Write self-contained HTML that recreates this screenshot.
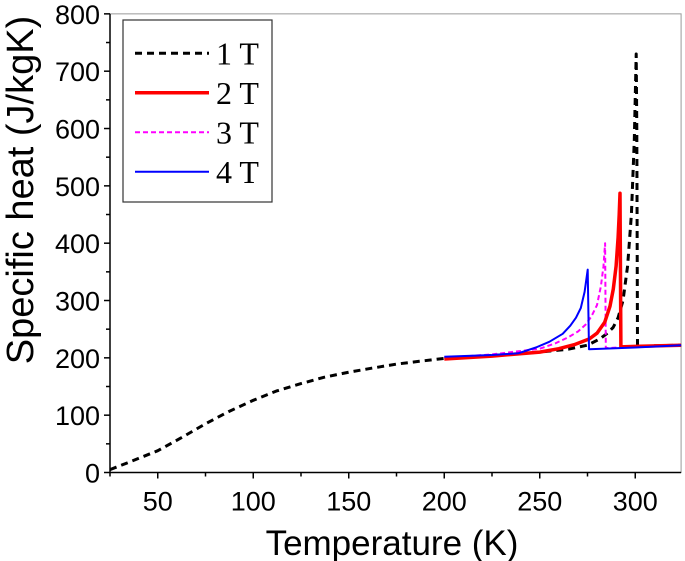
<!DOCTYPE html>
<html><head><meta charset="utf-8"><style>
html,body{margin:0;padding:0;background:#fff;}
svg{display:block;}
text{font-family:"Liberation Sans",sans-serif;}
</style></head><body>
<svg id="chart" width="685" height="561"></svg>
<script>
const xTicks=[50,100,150,200,250,300];
const yTicks=[0,100,200,300,400,500,600,700,800];
const seriesNames=["1 T","2 T","3 T","4 T"];
const t1=[25,35,50,62,75,87,100,112,125,137,150,162,175,187,200,225,250,265,275,281.5,285,288.4,291,293.6,296,298,299.5,300.5,300.8,301.2,310,324];
const c1=[5,18,38,60,85,106,126,142,155,166,175,182,189,194,199,204,210,215,222,233,242,253,270,300,360,450,580,730,600,220,221,222];
const t2=[200,225,250,260,268,276,280,284,286.8,288.5,290,291,291.6,292,292.5,300,324];
const c2=[198,203,210,216,223,233,243,262,290,320,360,410,450,487,219,220,222];
const t3=[200,225,250,258,265,270,274,277,280,282,283.4,284.2,284.6,300,324];
const c3=[200,206,216,225,236,246,258,272,292,325,360,400,217,219,222];
const t4=[200,225,238.7,248,255,262,266,269,271.5,273.5,275.1,275.8,300,324];
const c4=[202,205,208,218,228,242,256,270,287,315,354,215,218,222];
const svg=document.getElementById('chart');
const NS='http://www.w3.org/2000/svg';
const X0=110,PX=1.91,Y0=472.5,PY=0.5733;
const xs=v=>X0+(v-25)*PX, ys=v=>Y0-v*PY;
function mk(tag,attrs,parent){const e=document.createElementNS(NS,tag);for(const k in attrs)e.setAttribute(k,attrs[k]);(parent||svg).appendChild(e);return e;}
const frame=mk('rect',{x:xs(25),y:ys(800),width:xs(324)-xs(25),height:ys(0)-ys(800),fill:'none',stroke:'#999','stroke-width':1});


const xa=mk('line',{x1:xs(25),x2:xs(324),y1:Y0,y2:Y0,stroke:'#000','stroke-width':1.5});


const ya=mk('line',{x1:X0,x2:X0,y1:ys(0),y2:ys(800),stroke:'#000','stroke-width':1.5});


for(let v=25;v<=324;v+=25){const maj=xTicks.includes(v);mk('line',{x1:xs(v),x2:xs(v),y1:Y0,y2:Y0+(maj?6:4),stroke:'#000','stroke-width':1.5});}
for(let v=0;v<=800;v+=50){const maj=v%100===0;mk('line',{x1:X0,x2:X0-(maj?6:4),y1:ys(v),y2:ys(v),stroke:'#000','stroke-width':1.5});}
xTicks.forEach(v=>{const t=mk('text',{x:xs(v),y:Y0+38,'font-size':27,'text-anchor':'middle'});t.textContent=v;

});
yTicks.forEach(v=>{const t=mk('text',{x:X0-10,y:ys(v)+10,'font-size':27,'text-anchor':'end'});t.textContent=v;

});
const xt=mk('text',{x:392,y:555,'font-size':35,'text-anchor':'middle'});xt.textContent='Temperature (K)';


const yt=mk('text',{x:0,y:0,'font-size':38,'text-anchor':'middle',transform:'translate(33,190) rotate(-90)'});yt.textContent='Specific heat (J/kgK)';


const styles=[{c:'#000',w:3,d:'7,5'},{c:'#ff0000',w:3.5,d:''},{c:'#ff00ff',w:2,d:'5,3'},{c:'#0000ff',w:2,d:''}];
const data=[[t1,c1],[t2,c2],[t3,c3],[t4,c4]];
const order=[0,2,1,3];
order.forEach(i=>{const [t,c]=data[i];const s=styles[i];
const d=t.map((v,j)=>(j?'L':'M')+xs(v).toFixed(1)+','+ys(c[j]).toFixed(1)).join('');
const p=mk('path',{d:d,fill:'none',stroke:s.c,'stroke-width':s.w,'stroke-dasharray':s.d,'stroke-linejoin':'round'});

});
const lg=mk('g',{});


mk('rect',{x:123,y:20,width:149,height:182,fill:'#fff',stroke:'#333','stroke-width':1.2},lg);
seriesNames.forEach((n,i)=>{const y=53.3+i*39.5;const s=styles[i];
mk('line',{x1:135,x2:209,y1:y,y2:y,stroke:s.c,'stroke-width':s.w,'stroke-dasharray':s.d},lg);
const t=mk('text',{x:216,y:y+11,'font-size':32,style:'font-family:"Liberation Serif",serif'},lg);t.textContent=n;

});
</script>
</body></html>
